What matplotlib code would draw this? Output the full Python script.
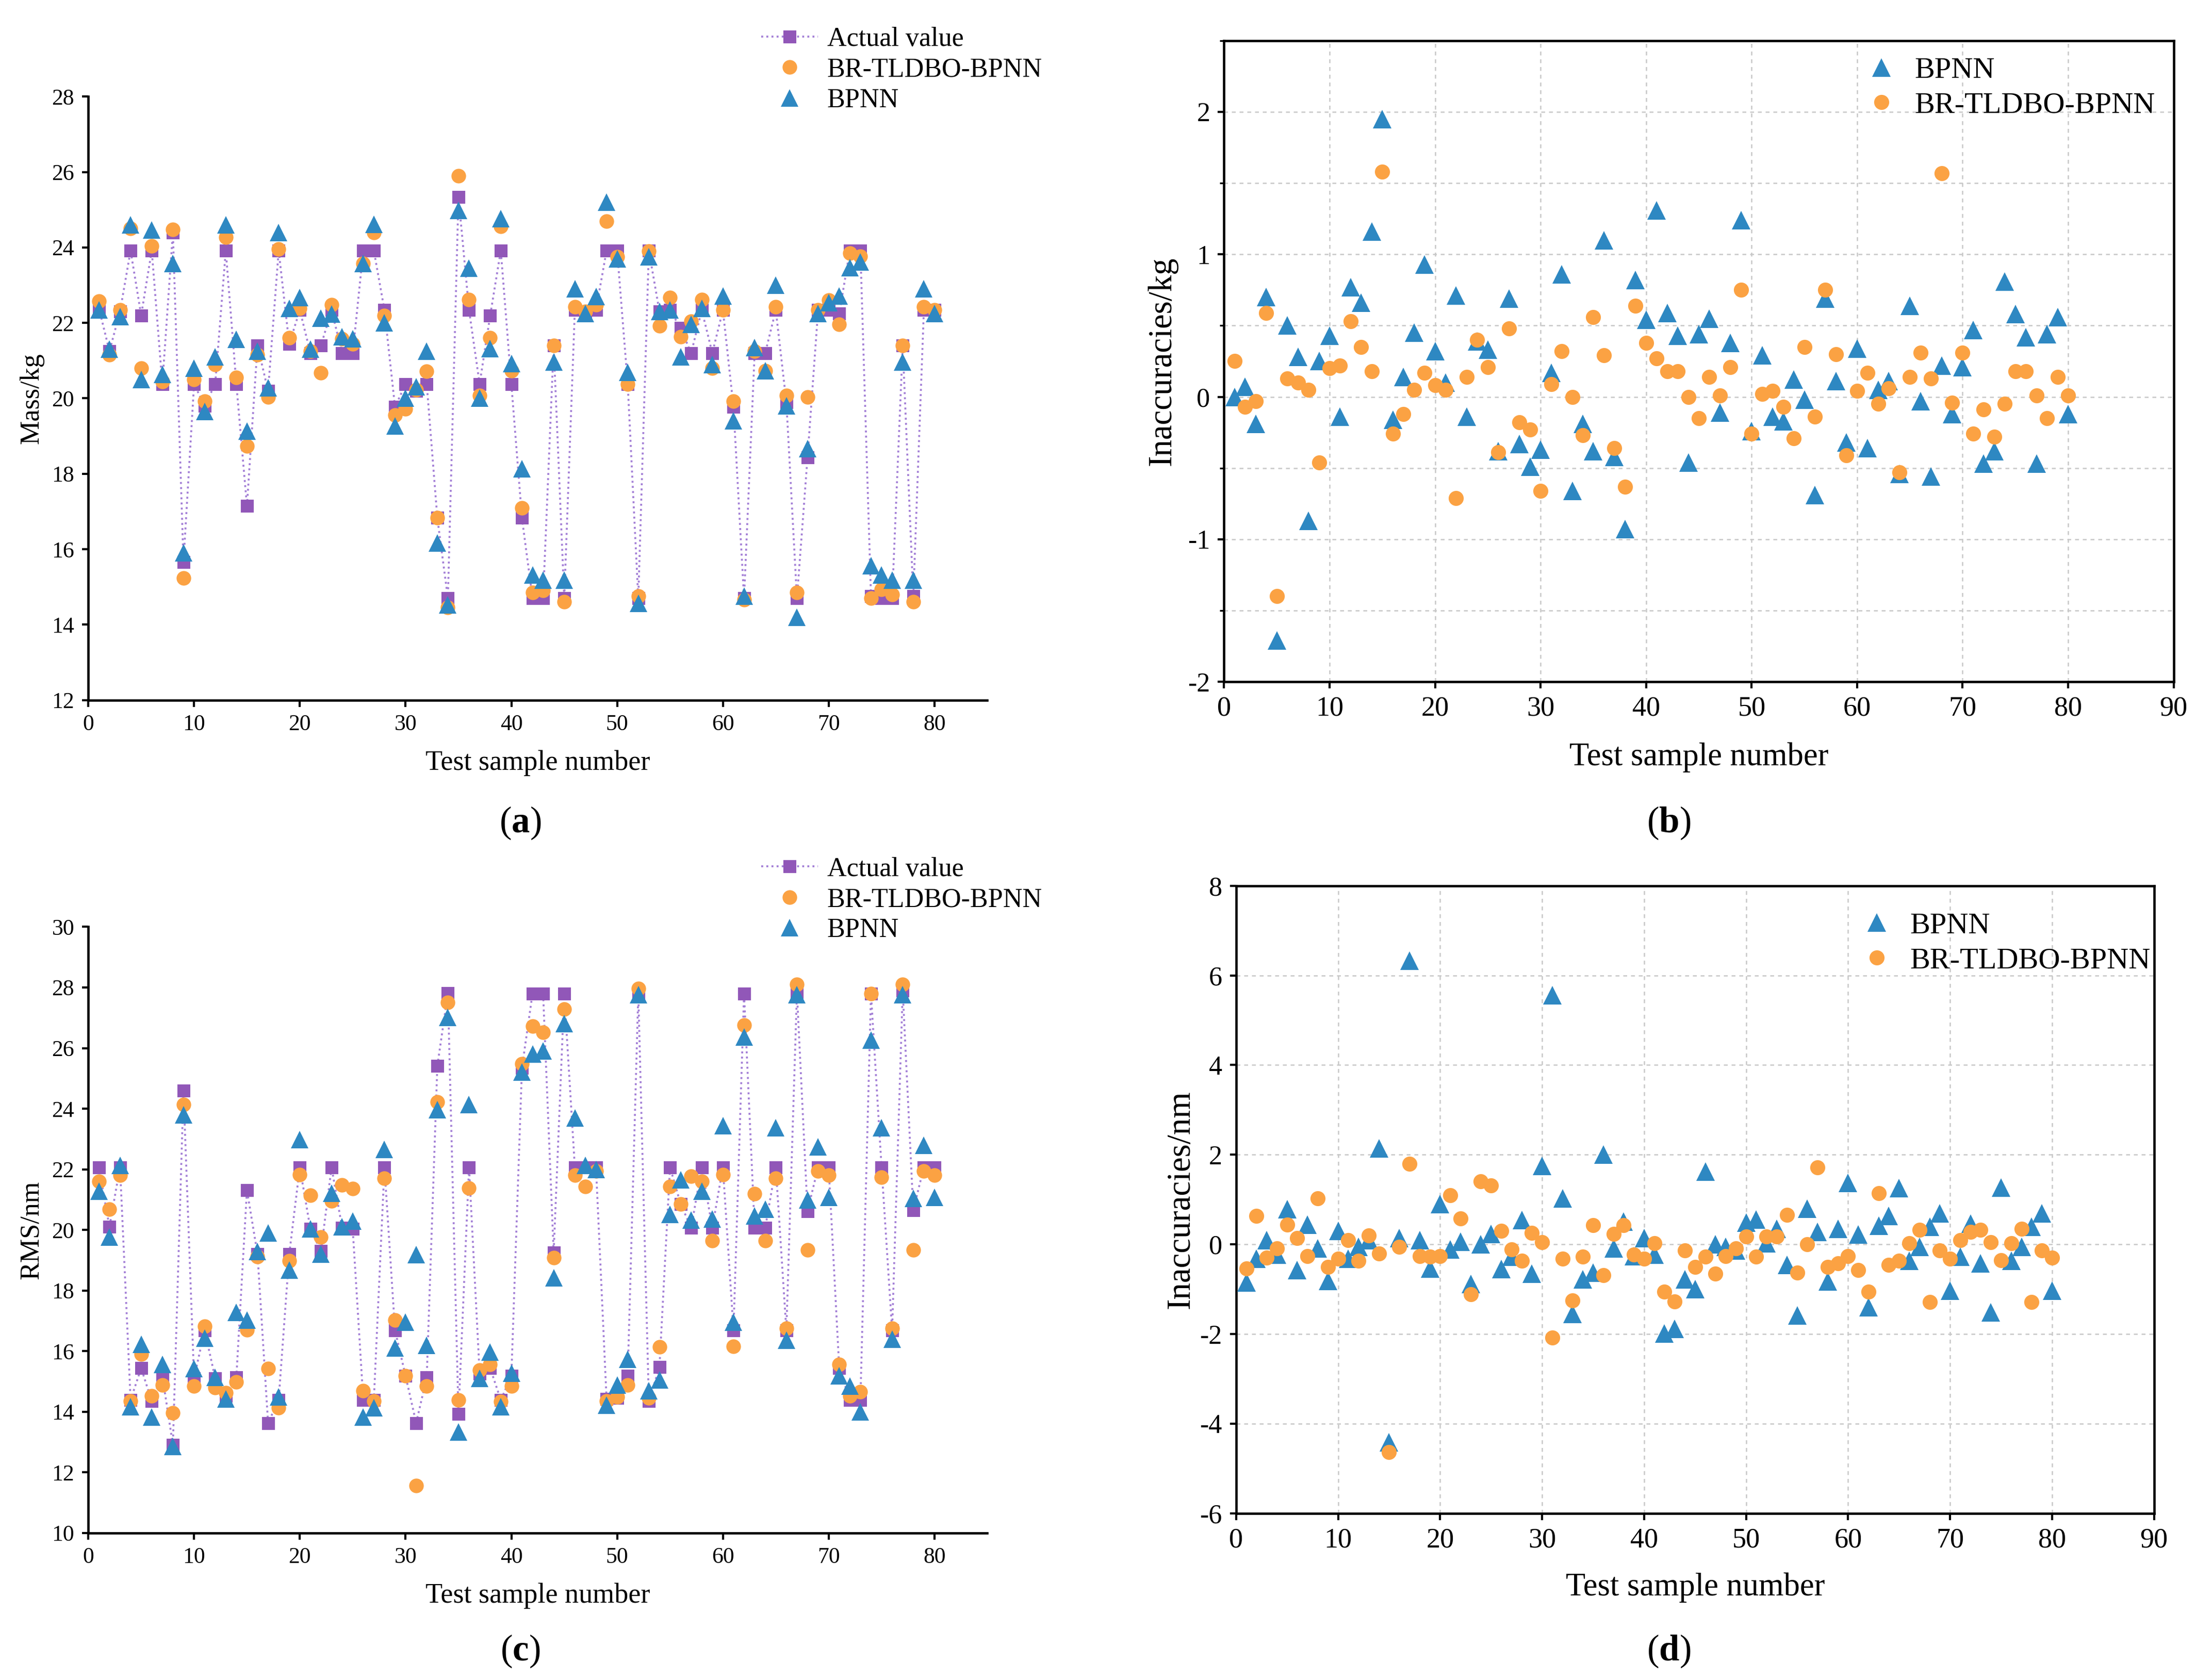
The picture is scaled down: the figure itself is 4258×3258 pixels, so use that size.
import numpy as np
import matplotlib
matplotlib.use('Agg')
import matplotlib.pyplot as plt
from matplotlib.ticker import MultipleLocator

plt.rcParams['font.family'] = ['Liberation Serif', 'DejaVu Serif']
plt.rcParams['mathtext.fontset'] = 'custom'
plt.rcParams['mathtext.rm'] = 'Liberation Serif'
plt.rcParams['mathtext.bf'] = 'Liberation Serif:bold'
plt.rcParams['axes.unicode_minus'] = False

# sample numbers 1..80
samples = list(range(1, 81))

# (a) mass, kg
mass_actual = [22.40, 21.25, 22.30, 23.92, 22.20, 23.92, 20.38, 24.40, 15.66, 20.38,
               19.80, 20.38, 23.92, 20.38, 17.15, 21.40, 20.20, 23.92, 21.44, 22.34,
               21.20, 21.40, 22.34, 21.20, 21.20, 23.92, 23.92, 22.34, 19.77, 20.38,
               20.20, 20.38, 16.83, 14.70, 25.34, 22.34, 20.38, 22.20, 23.92, 20.38,
               16.83, 14.70, 14.70, 21.40, 14.70, 22.34, 22.30, 22.34, 23.92, 23.92,
               20.38, 14.70, 23.92, 22.30, 22.34, 21.86, 21.20, 22.34, 21.20, 22.34,
               19.77, 14.70, 21.20, 21.20, 22.34, 19.90, 14.70, 18.43, 22.34, 22.34,
               22.25, 23.92, 23.92, 14.75, 14.70, 14.70, 21.40, 14.75, 22.34, 22.34]
mass_br = [22.57, 21.16, 22.34, 24.50, 20.80, 24.04, 20.45, 24.48, 15.23, 20.50,
           19.93, 20.90, 24.27, 20.55, 18.73, 21.16, 20.03, 23.96, 21.60, 22.39,
           21.25, 20.68, 22.48, 21.58, 21.44, 23.57, 24.40, 22.20, 19.56, 19.72,
           20.22, 20.72, 16.83, 14.46, 25.90, 22.62, 20.08, 21.60, 24.56, 20.73,
           17.10, 14.85, 14.90, 21.40, 14.60, 22.43, 22.30, 22.48, 24.70, 23.75,
           20.38, 14.75, 23.90, 21.92, 22.67, 21.63, 22.05, 22.62, 20.80, 22.34,
           19.93, 14.66, 21.25, 20.73, 22.43, 20.08, 14.85, 20.04, 22.34, 22.60,
           21.96, 23.85, 23.77, 14.70, 14.94, 14.80, 21.40, 14.60, 22.43, 22.34]
mass_bp = [22.34, 21.30, 22.17, 24.60, 20.50, 24.46, 20.64, 23.57, 15.90, 20.80,
           19.65, 21.10, 24.60, 21.57, 19.13, 21.25, 20.28, 24.40, 22.39, 22.67,
           21.30, 22.13, 22.23, 21.63, 21.58, 23.57, 24.62, 22.00, 19.27, 20.00,
           20.31, 21.25, 16.17, 14.53, 24.98, 23.45, 20.00, 21.32, 24.76, 20.92,
           18.14, 15.32, 15.18, 20.97, 15.18, 22.90, 22.25, 22.70, 25.20, 23.70,
           20.69, 14.56, 23.75, 22.30, 22.34, 21.10, 21.96, 22.39, 20.90, 22.72,
           19.41, 14.75, 21.35, 20.73, 23.00, 19.80, 14.19, 18.67, 22.25, 22.53,
           22.72, 23.47, 23.62, 15.56, 15.32, 15.18, 20.97, 15.18, 22.90, 22.25]

# (b) mass errors, kg
mass_err_bp = [0.00, 0.07, -0.19, 0.70, -1.71, 0.50, 0.28, -0.87, 0.25, 0.43,
               -0.14, 0.77, 0.66, 1.16, 1.95, -0.16, 0.14, 0.45, 0.93, 0.32,
               0.10, 0.71, -0.14, 0.39, 0.33, -0.38, 0.69, -0.33, -0.49, -0.37,
               0.17, 0.86, -0.66, -0.19, -0.38, 1.10, -0.42, -0.93, 0.82, 0.54,
               1.31, 0.59, 0.43, -0.46, 0.44, 0.55, -0.11, 0.38, 1.24, -0.24,
               0.29, -0.14, -0.17, 0.12, -0.02, -0.69, 0.69, 0.11, -0.32, 0.34,
               -0.36, 0.05, 0.11, -0.54, 0.64, -0.03, -0.56, 0.22, -0.12, 0.21,
               0.47, -0.47, -0.38, 0.81, 0.58, 0.42, -0.47, 0.44, 0.56, -0.12]
mass_err_br = [0.25, -0.07, -0.03, 0.59, -1.40, 0.13, 0.10, 0.05, -0.46, 0.20,
               0.22, 0.53, 0.35, 0.18, 1.58, -0.26, -0.12, 0.05, 0.17, 0.08,
               0.05, -0.71, 0.14, 0.40, 0.21, -0.39, 0.48, -0.18, -0.23, -0.66,
               0.09, 0.32, 0.00, -0.27, 0.56, 0.29, -0.36, -0.63, 0.64, 0.38,
               0.27, 0.18, 0.18, 0.00, -0.15, 0.14, 0.01, 0.21, 0.75, -0.26,
               0.02, 0.04, -0.07, -0.29, 0.35, -0.14, 0.75, 0.30, -0.41, 0.04,
               0.17, -0.05, 0.06, -0.53, 0.14, 0.31, 0.13, 1.57, -0.04, 0.31,
               -0.26, -0.09, -0.28, -0.05, 0.18, 0.18, 0.01, -0.15, 0.14, 0.01]

# (c) RMS, nm
rms_actual = [22.07, 20.10, 22.07, 14.39, 15.44, 14.35, 15.18, 12.91, 24.60, 15.11,
              16.69, 15.11, 14.52, 15.14, 21.32, 19.20, 13.63, 14.39, 19.20, 22.07,
              20.03, 19.30, 22.07, 20.07, 20.03, 14.39, 14.39, 22.07, 16.69, 15.18,
              13.63, 15.14, 25.41, 27.81, 13.93, 22.07, 15.25, 15.44, 14.39, 15.18,
              25.34, 27.80, 27.80, 19.25, 27.80, 22.07, 22.07, 22.07, 14.43, 14.46,
              15.18, 27.80, 14.35, 15.47, 22.07, 20.86, 20.07, 22.07, 20.07, 22.07,
              16.69, 27.80, 20.07, 20.07, 22.07, 16.69, 27.84, 20.62, 22.07, 22.07,
              15.44, 14.39, 14.39, 27.80, 22.07, 16.69, 27.90, 20.65, 22.07, 22.07]
rms_br = [21.61, 20.69, 21.80, 14.35, 15.90, 14.52, 14.88, 13.96, 24.14, 14.85,
          16.82, 14.79, 14.62, 14.98, 16.71, 19.11, 15.42, 14.13, 18.98, 21.83,
          21.15, 19.77, 20.95, 21.48, 21.37, 14.69, 14.35, 21.70, 17.02, 15.18,
          11.57, 14.85, 24.23, 27.51, 14.39, 21.38, 15.38, 15.57, 14.33, 14.85,
          25.48, 26.72, 26.52, 19.08, 27.29, 21.80, 21.44, 21.94, 14.35, 14.49,
          14.88, 27.97, 14.46, 16.14, 21.44, 20.86, 21.78, 21.61, 19.64, 21.83,
          16.16, 26.76, 21.19, 19.64, 21.70, 16.75, 28.10, 19.34, 21.94, 21.80,
          15.57, 14.52, 14.66, 27.80, 21.74, 16.75, 28.10, 19.34, 21.94, 21.80]
rms_bp = [21.28, 19.77, 22.13, 14.17, 16.23, 13.83, 15.57, 12.86, 23.80, 15.42,
          16.43, 15.14, 14.43, 17.28, 17.02, 19.29, 19.90, 14.49, 18.68, 22.98,
          20.03, 19.20, 21.21, 20.10, 20.30, 13.83, 14.13, 22.66, 16.10, 16.95,
          19.18, 16.19, 23.97, 27.02, 13.34, 24.14, 15.11, 15.97, 14.17, 15.27,
          25.21, 25.80, 25.90, 18.42, 26.81, 23.70, 22.13, 22.00, 14.22, 14.88,
          15.74, 27.77, 14.69, 15.05, 20.52, 21.65, 20.33, 21.28, 20.36, 23.44,
          16.95, 26.37, 20.47, 20.69, 23.38, 16.36, 27.77, 20.99, 22.75, 21.08,
          15.18, 14.85, 14.00, 26.26, 23.38, 16.39, 27.77, 21.04, 22.79, 21.08]

# (d) RMS errors, nm
rms_err_bp = [-0.85, -0.32, 0.09, -0.23, 0.78, -0.57, 0.44, -0.09, -0.81, 0.30,
              -0.32, -0.05, 0.09, 2.14, -4.41, 0.14, 6.33, 0.09, -0.54, 0.90,
              -0.11, 0.06, -0.88, 0.00, 0.23, -0.55, -0.28, 0.54, -0.65, 1.75,
              5.56, 1.02, -1.55, -0.78, -0.63, 2.00, -0.09, 0.51, -0.26, 0.14,
              -0.23, -1.99, -1.89, -0.78, -1.00, 1.62, 0.00, -0.05, -0.14, 0.48,
              0.55, 0.03, 0.35, -0.46, -1.59, 0.80, 0.28, -0.83, 0.35, 1.37,
              0.22, -1.40, 0.42, 0.63, 1.25, -0.37, -0.05, 0.39, 0.69, -1.03,
              -0.28, 0.46, -0.42, -1.52, 1.27, -0.37, -0.05, 0.39, 0.69, -1.03]
rms_err_br = [-0.54, 0.63, -0.30, -0.09, 0.44, 0.14, -0.26, 1.03, -0.51, -0.32,
              0.09, -0.37, 0.20, -0.20, -4.63, -0.05, 1.80, -0.26, -0.28, -0.26,
              1.09, 0.58, -1.11, 1.40, 1.31, 0.30, -0.11, -0.37, 0.25, 0.05,
              -2.08, -0.32, -1.25, -0.28, 0.43, -0.69, 0.23, 0.43, -0.23, -0.32,
              0.03, -1.06, -1.27, -0.14, -0.51, -0.28, -0.65, -0.26, -0.09, 0.17,
              -0.28, 0.18, 0.18, 0.66, -0.63, 0.00, 1.71, -0.51, -0.42, -0.26,
              -0.57, -1.06, 1.14, -0.46, -0.37, 0.03, 0.32, -1.29, -0.14, -0.32,
              0.09, 0.28, 0.32, 0.05, -0.35, 0.03, 0.35, -1.29, -0.14, -0.30]

purple = '#9157b8'
line_purple = '#a37fd6'
orange = '#fba243'
blue = '#2e88c2'

fig = plt.figure(figsize=(4258 / 300, 3258 / 300), dpi=300)


def style_axes(ax, tick_fs_x, tick_fs_y):
    for s in ax.spines.values():
        s.set_linewidth(1.1)
    ax.tick_params(direction='out', length=3, width=1.0)
    ax.tick_params(axis='x', labelsize=tick_fs_x)
    ax.tick_params(axis='y', labelsize=tick_fs_y)


def value_panel(rect, actual, br, bp, ylim, ylabel, legend_top):
    ax = fig.add_axes(rect)
    ax.plot(samples, actual, linestyle=':', color=line_purple, linewidth=0.9,
            marker='s', markersize=6, markerfacecolor=purple, markeredgewidth=0,
            label='Actual value', zorder=2)
    ax.plot(samples, br, linestyle='none', marker='o', markersize=6.8,
            color=orange, markeredgewidth=0, label='BR-TLDBO-BPNN', zorder=3)
    ax.plot(samples, bp, linestyle='none', marker='^', markersize=8,
            color=blue, markeredgewidth=0, label='BPNN', zorder=4)
    ax.set_xlim(0, 85)
    ax.set_ylim(*ylim)
    ax.set_xticks(range(0, 81, 10))
    ax.yaxis.set_major_locator(MultipleLocator(2))
    ax.spines['top'].set_visible(False)
    ax.spines['right'].set_visible(False)
    style_axes(ax, 10.5, 10.5)
    ax.set_xlabel('Test sample number', fontsize=13)
    ax.set_ylabel(ylabel, fontsize=12.5)
    ax.xaxis.label.set_va('center')
    ax.yaxis.label.set_va('center')
    ax.xaxis.set_label_coords(0.5, -0.104)
    ax.yaxis.set_label_coords(-0.063, 0.5)
    fig.legend(*ax.get_legend_handles_labels(), loc='upper left',
               bbox_to_anchor=(0.3406, legend_top), frameon=False,
               fontsize=12.5, handlelength=2.1, handletextpad=0.35,
               borderpad=0, labelspacing=0.22)
    return ax


def error_panel(rect, err_bp, err_br, ylim, major, minor, xlabel_y, ylabel_x, ylabel, legend_xy):
    ax = fig.add_axes(rect)
    ax.plot(samples, err_bp, linestyle='none', marker='^', markersize=8.6,
            color=blue, markeredgewidth=0, label='BPNN', zorder=3)
    ax.plot(samples, err_br, linestyle='none', marker='o', markersize=7,
            color=orange, markeredgewidth=0, label='BR-TLDBO-BPNN', zorder=4)
    ax.set_xlim(0, 90)
    ax.set_ylim(*ylim)
    ax.set_xticks(range(0, 91, 10))
    ax.yaxis.set_major_locator(MultipleLocator(major))
    if minor:
        ax.yaxis.set_minor_locator(MultipleLocator(minor))
        ax.tick_params(axis='y', which='minor', direction='out', length=2, width=0.8)
        ax.grid(axis='y', which='minor', color='#c8c8c8', linestyle=(0, (3, 3)), linewidth=0.6)
    ax.grid(which='major', color='#c8c8c8', linestyle=(0, (3, 3)), linewidth=0.6)
    ax.set_axisbelow(True)
    style_axes(ax, 13, 12.5)
    ax.set_xlabel('Test sample number', fontsize=15)
    ax.set_ylabel(ylabel, fontsize=15.5)
    ax.xaxis.label.set_va('center')
    ax.yaxis.label.set_va('center')
    ax.xaxis.set_label_coords(0.5, xlabel_y)
    ax.yaxis.set_label_coords(ylabel_x, 0.5)
    ax.legend(loc='upper left', bbox_to_anchor=legend_xy, bbox_transform=fig.transFigure,
              frameon=False, fontsize=14, handlelength=1.0, handletextpad=0.6,
              borderpad=0, labelspacing=0.25)
    return ax


value_panel([0.0402, 0.5833, 0.4094, 0.3592], mass_actual, mass_br, mass_bp,
            (12, 28), 'Mass/kg', 0.992)
error_panel([0.5574, 0.5942, 0.4324, 0.3816], mass_err_bp, mass_err_br,
            (-2, 2.5), 1, 0.5, -0.118, -0.065, 'Inaccuracies/kg', (0.843, 0.975))
value_panel([0.0402, 0.0875, 0.4094, 0.3608], rms_actual, rms_br, rms_bp,
            (10, 30), 'RMS/nm', 0.498)
error_panel([0.5629, 0.0992, 0.4180, 0.3736], rms_err_bp, rms_err_br,
            (-6, 8), 2, None, -0.118, -0.060, 'Inaccuracies/nm', (0.841, 0.466))

for x, y, letter in [(0.237, 0.51, 'a'), (0.760, 0.51, 'b'),
                     (0.237, 0.017, 'c'), (0.760, 0.017, 'd')]:
    fig.text(x, y, r'($\mathbf{' + letter + r'}$)', ha='center', va='center', fontsize=17)

fig.savefig('out.png', dpi=300)
